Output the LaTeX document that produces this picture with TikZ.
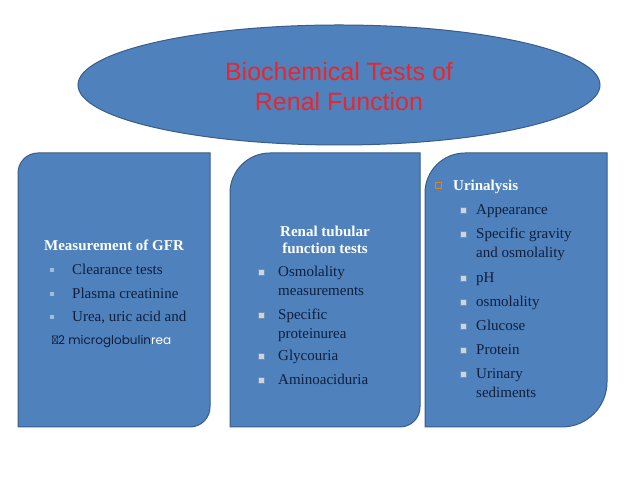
\documentclass[tikz,border=0pt]{standalone}
\usepackage{fontspec}
\usetikzlibrary{shapes.geometric}
\setmainfont{Liberation Serif}
\newfontfamily\titlefont{Liberation Sans}
\newfontfamily\gothic{Poppins}
\definecolor{boxfill}{HTML}{4F81BD}
\definecolor{boxline}{HTML}{385D8A}
\definecolor{navy}{HTML}{0F1F3D}
\definecolor{bul}{HTML}{C6D6EA}
\definecolor{titlered}{HTML}{E8262C}
\begin{document}
\begin{tikzpicture}[x=1pt,y=1pt,
 panel/.style={fill=boxfill,draw=boxline,line width=1pt},
 item/.style={anchor=base west,inner sep=0pt,font=\fontsize{15}{15}\selectfont,text=navy},
 head/.style={anchor=base,inner sep=0pt,font=\fontsize{15}{15}\selectfont\bfseries,text=white,align=center},
 sq/.style={rectangle,draw=boxline!70!white,fill=bul,minimum size=6pt,inner sep=0pt,line width=0.6pt},
 dot/.style={rectangle,fill=bul!70!boxfill,minimum size=3.5pt,inner sep=0pt}]
\useasboundingbox (0,0) rectangle (638,478);
\fill[white] (0,0) rectangle (638,478);
% ellipse
\node[ellipse,panel,minimum width=522pt,minimum height=120pt,inner sep=0pt] (title) at (339,393) {};
\node[font=\titlefont\fontsize{25}{30}\selectfont,text=titlered,align=center] (tt) at (339,391) {Biochemical Tests of\\Renal Function};
% panels
\draw[panel] (18,51) -- (18,305) arc[start angle=180,end angle=90,radius=20] -- (210,325) -- (210,71) arc[start angle=0,end angle=-90,radius=20] -- cycle;
\draw[panel] (230,51) -- (230,285) arc[start angle=180,end angle=90,radius=40] -- (420,325) -- (420,71) arc[start angle=0,end angle=-90,radius=20] -- cycle;
\draw[panel] (425,51) -- (425,285) arc[start angle=180,end angle=90,radius=40] -- (607,325) -- (607,96) arc[start angle=0,end angle=-90,radius=45] -- cycle;
% panel 1
\node[head] (h1) at (114,227) {Measurement of GFR};
\node[dot] (d1) at (52,208) {};
\node[item] (a1) at (72,203) {Clearance tests};
\node[dot] (d2) at (52,184) {};
\node[item] (a2) at (72,179) {Plasma creatinine};
\node[dot] (d3) at (52,161) {};
\node[item] (a3) at (72,156) {Urea, uric acid and};
\node[anchor=base west,inner sep=0pt,font=\gothic\fontsize{12}{12}\selectfont,text=navy] (a4) at (52,133) {β2 microglobulin\textcolor{white}{rea}};
% panel 2
\node[head] (h2) at (325,241) {Renal tubular};
\node[head] (h2b) at (325,224) {function tests};
\node[sq] (s1) at (261,206) {};
\node[item] (b1) at (278,201) {Osmolality};
\node[item] (b1b) at (278,182) {measurements};
\node[sq] (s2) at (261,163) {};
\node[item] (b2) at (278,158) {Specific};
\node[item] (b2b) at (278,139) {proteinurea};
\node[sq] (s3) at (261,122) {};
\node[item] (b3) at (278,117) {Glycouria};
\node[sq] (s4) at (261,98) {};
\node[item] (b4) at (278,93) {Aminoaciduria};
% panel 3
\node[rectangle,draw=orange!70!brown,minimum size=6pt,inner sep=0pt,line width=0.6pt] (s0) at (438,293) {};
\node[anchor=base west,inner sep=0pt,font=\fontsize{15}{15}\selectfont\bfseries,text=white] (c0) at (453,287) {Urinalysis};
\node[sq] (t1) at (463,268) {};
\node[item] (c1) at (476,263) {Appearance};
\node[sq] (t2) at (463,244) {};
\node[item] (c2) at (476,239) {Specific gravity};
\node[item] (c2b) at (476,220) {and osmolality};
\node[sq] (t3) at (463,200) {};
\node[item] (c3) at (476,195) {pH};
\node[sq] (t4) at (463,176) {};
\node[item] (c4) at (476,171) {osmolality};
\node[sq] (t5) at (463,152) {};
\node[item] (c5) at (476,147) {Glucose};
\node[sq] (t6) at (463,128) {};
\node[item] (c6) at (476,123) {Protein};
\node[sq] (t7) at (463,104) {};
\node[item] (c7) at (476,99) {Urinary};
\node[item] (c7b) at (476,80) {sediments};
\end{tikzpicture}
\end{document}
